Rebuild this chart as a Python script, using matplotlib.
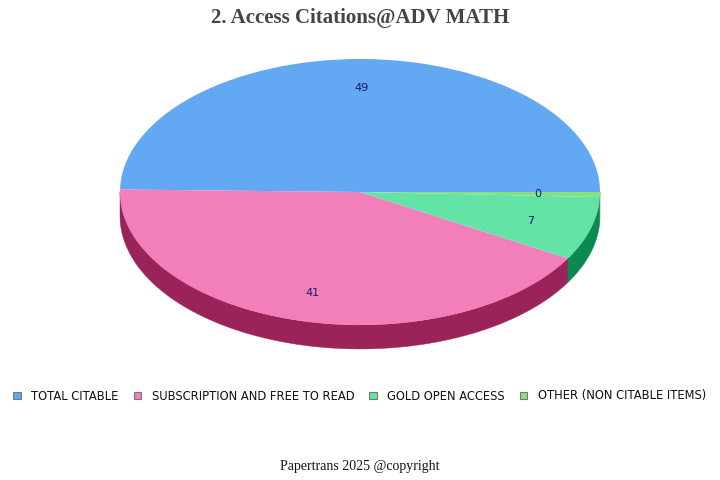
import numpy as np
import matplotlib
matplotlib.use("Agg")
import matplotlib.pyplot as plt
from matplotlib.patches import Patch, Polygon

categories = ["TOTAL CITABLE", "SUBSCRIPTION AND FREE TO READ", "GOLD OPEN ACCESS", "OTHER (NON CITABLE ITEMS)"]
values = [49, 41.4, 7.6, 0.6]
labels = ["49", "41", "7", "0"]
top_colors = ["#62a8f3", "#f27fb9", "#63e3a6", "#86e07e"]
side_colors = ["#2f6fb5", "#9a2359", "#0a8a50", "#3f9a3a"]

depth = 0.18  # thickness of the pie in y units

fig = plt.figure(figsize=(7.2, 4.8), dpi=100)
ax = fig.add_axes([0, 0, 1, 1])

wedges, _ = ax.pie(values, startangle=0, counterclock=True, colors=top_colors,
                   radius=1, wedgeprops=dict(linewidth=0, antialiased=True, zorder=3))

# side walls for the lower (visible) half
for w, c in zip(wedges, side_colors):
    a, b = max(w.theta1, 180), min(w.theta2, 360)
    if b <= a:
        continue
    t = np.radians(np.linspace(a, b, 80))
    top = np.column_stack([np.cos(t), np.sin(t)])
    bot = np.column_stack([np.cos(t), np.sin(t) - depth])[::-1]
    ax.add_patch(Polygon(np.vstack([top, bot]), closed=True, facecolor=c,
                         edgecolor=c, linewidth=0.3, zorder=2))

# value labels
for w, lab in zip(wedges, labels):
    mid = np.radians((w.theta1 + w.theta2) / 2)
    ax.text(0.74 * np.cos(mid), 0.785 * np.sin(mid), lab, ha="center", va="center",
            fontsize=8, color="#191970", zorder=5)

ax.set_aspect("auto")
ax.set_xlim(-1.5, 1.5)
ax.set_ylim(-2.165, 1.4436)
ax.axis("off")

fig.text(0.5, 0.963, "2. Access Citations@ADV MATH", ha="center", va="center",
         fontsize=15, fontweight="bold", color="#444444", family="Liberation Serif")

handles = [Patch(facecolor=c, edgecolor="#777777", linewidth=0.8) for c in top_colors]
fig.legend(handles, categories, loc="center", bbox_to_anchor=(0.4995, 0.175), ncol=4,
           frameon=False, fontsize=8.3, handlelength=0.65, handleheight=0.65,
           handletextpad=0.9, columnspacing=1.3, labelcolor="#111111")

fig.text(0.5, 0.029, "Papertrans 2025 @copyright", ha="center", va="center",
         fontsize=10, color="#111111", family="Liberation Serif")

fig.savefig("out.png", dpi=100)
